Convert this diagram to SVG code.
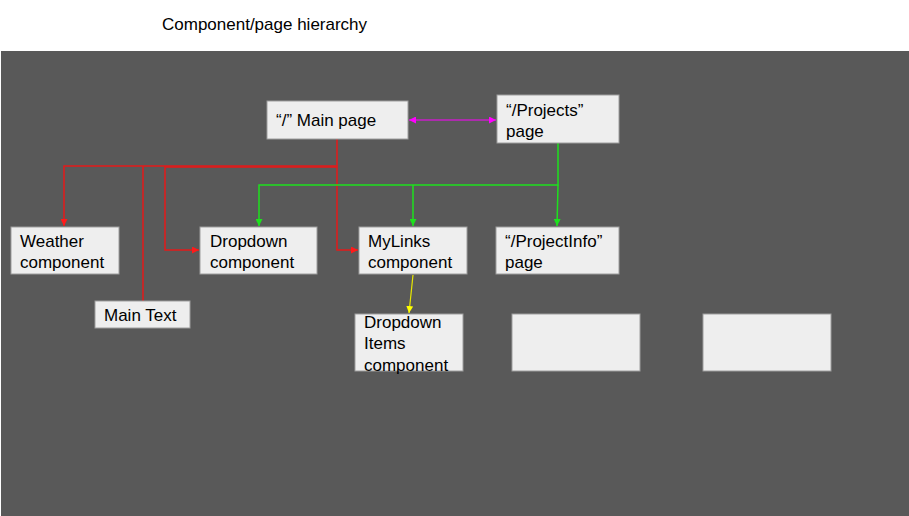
<svg xmlns="http://www.w3.org/2000/svg" width="909" height="516" viewBox="0 0 909 516">
<style>
.n rect{fill:#eeeeee;stroke:#9e9e9e;stroke-width:1}
text{font-family:Arial,"Liberation Sans",sans-serif;font-size:17px;fill:#000}
.r{stroke:#e31a1a;stroke-width:1.5;fill:none}
.g{stroke:#1ee01e;stroke-width:1.5;fill:none}
</style>
<defs>
<marker id="ar" viewBox="0 0 10 10" refX="10" refY="5" markerWidth="7" markerHeight="7" markerUnits="userSpaceOnUse" orient="auto"><path d="M0,0L10,5L0,10z" fill="#ff1a1a"/></marker>
<marker id="ag" viewBox="0 0 10 10" refX="10" refY="5" markerWidth="7" markerHeight="7" markerUnits="userSpaceOnUse" orient="auto"><path d="M0,0L10,5L0,10z" fill="#1ee01e"/></marker>
<marker id="ay" viewBox="0 0 10 10" refX="10" refY="5" markerWidth="7" markerHeight="7" markerUnits="userSpaceOnUse" orient="auto"><path d="M0,0L10,5L0,10z" fill="#ffff00"/></marker>
<marker id="am" viewBox="0 0 10 10" refX="10" refY="5" markerWidth="7" markerHeight="7" markerUnits="userSpaceOnUse" orient="auto-start-reverse"><path d="M0,0L10,5L0,10z" fill="#ff00ff"/></marker>
</defs>
<rect width="909" height="516" fill="#fff"/>
<rect x="1" y="51" width="908" height="465" fill="#595959"/>
<text x="162" y="30">Component/page hierarchy</text>
<g id="connectors">
<path class="r" d="M337,139V166H64V226" marker-end="url(#ar)"/>
<path class="r" d="M143,166V301"/>
<path class="r" d="M337,167H165V250H199" marker-end="url(#ar)"/>
<path class="r" d="M337,166V250H358" marker-end="url(#ar)"/>
<path class="g" d="M558,143V185H259V226" marker-end="url(#ag)"/>
<path class="g" d="M413,185V226" marker-end="url(#ag)"/>
<path class="g" d="M558,185L557,226" marker-end="url(#ag)"/>
<path d="M413,275L409,313" stroke="#e8e800" stroke-width="1.2" marker-end="url(#ay)"/>
<path d="M409,120H496" stroke="#ff00ff" stroke-width="1.2" marker-start="url(#am)" marker-end="url(#am)"/>
</g>
<g id="main" class="n"><rect x="267" y="101" width="141" height="38"/><text x="276" y="126">“/” Main page</text></g>
<g id="projects" class="n"><rect x="497" y="95" width="122" height="48"/><text x="506" y="116">“/Projects”</text><text x="506" y="137">page</text></g>
<g id="weather" class="n"><rect x="11" y="227" width="108" height="47"/><text x="20" y="247">Weather</text><text x="20" y="268">component</text></g>
<g id="dropdown" class="n"><rect x="200" y="227" width="117" height="47"/><text x="210" y="247">Dropdown</text><text x="210" y="268">component</text></g>
<g id="mylinks" class="n"><rect x="359" y="227" width="108" height="47"/><text x="368" y="247">MyLinks</text><text x="368" y="268">component</text></g>
<g id="projectinfo" class="n"><rect x="496" y="227" width="123" height="47"/><text x="505" y="247">“/ProjectInfo”</text><text x="505" y="268">page</text></g>
<g id="maintext" class="n"><rect x="95" y="301" width="95" height="27"/><text x="104" y="321">Main Text</text></g>
<g id="ddItems" class="n"><rect x="355" y="314" width="108" height="57"/><text x="364" y="328">Dropdown</text><text x="364" y="349">Items</text><text x="364" y="371">component</text></g>
<g id="empty1" class="n"><rect x="512" y="314" width="128" height="57"/></g>
<g id="empty2" class="n"><rect x="703" y="314" width="128" height="57"/></g>
</svg>
